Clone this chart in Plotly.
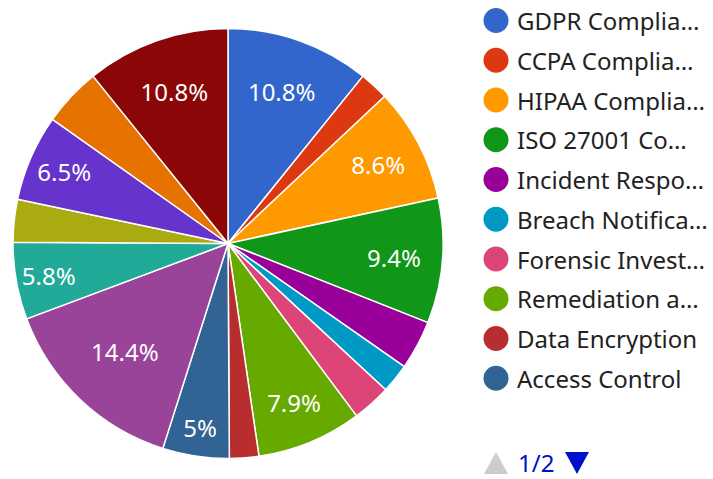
import plotly.graph_objects as go

W, H = 713, 479

categories = [
    "GDPR Compliance", "CCPA Compliance", "HIPAA Compliance", "ISO 27001 Compliance",
    "Incident Response", "Breach Notification", "Forensic Investigation",
    "Remediation and Recovery", "Data Encryption", "Access Control",
    "Network Security", "Vulnerability Management", "Security Training",
    "Third-Party Risk", "Audit and Reporting", "Threat Intelligence",
]
shares = [10.8, 2.2, 8.6, 9.4, 3.7, 2.2, 2.9, 7.9, 2.2, 5.0,
          14.4, 5.8, 3.2, 6.5, 4.4, 10.8]
colors = ["#3366CC", "#DC3912", "#FF9900", "#109618", "#990099", "#0099C6",
          "#DD4477", "#66AA00", "#B82E2E", "#316395", "#994499", "#22AA99",
          "#AAAA11", "#6633CC", "#E67300", "#8B0707"]
legend_labels = ["GDPR Complia…", "CCPA Complia…", "HIPAA Complia…", "ISO 27001 Co…",
                 "Incident Respo…", "Breach Notifica…", "Forensic Invest…",
                 "Remediation a…", "Data Encryption", "Access Control"]
page_label = "1/2"

total = sum(shares)
texts = []
for v in shares:
    p = round(v / total * 100, 1)
    s = f"{p:.1f}".rstrip("0").rstrip(".") + "%"
    texts.append(s if p >= 5 else "")

FONT = "Noto Sans, Open Sans, sans-serif"

fig = go.Figure(go.Pie(
    labels=categories, values=shares, text=texts, textinfo="text",
    textposition="inside", insidetextorientation="horizontal",
    sort=False, direction="clockwise", rotation=0,
    marker=dict(colors=colors, line=dict(color="white", width=1.5)),
    textfont=dict(family=FONT, size=24, color="white"),
    hovertemplate="%{label}: %{percent}<extra></extra>",
    showlegend=False,
    domain=dict(x=[13 / W, 443 / W], y=[1 - 458.5 / H, 1 - 28.5 / H]),
))

def px(x):
    return x / W

def py(y):
    return 1 - y / H

shapes = []
annotations = []
y0, step, r = 20.5, 39.75, 12.5
cx = 496
for i, (lab, col) in enumerate(zip(legend_labels, colors)):
    cy = y0 + i * step
    shapes.append(dict(type="circle", xref="paper", yref="paper",
                       x0=px(cx - r), x1=px(cx + r), y0=py(cy + r), y1=py(cy - r),
                       fillcolor=col, line=dict(width=0)))
    annotations.append(dict(xref="paper", yref="paper", x=px(515), y=py(cy),
                            xanchor="left", yanchor="middle", showarrow=False,
                            text=lab, font=dict(family=FONT, size=24, color="#222222")))

# pager
pyc = 463
shapes.append(dict(type="path", xref="paper", yref="paper",
                   path=f"M {px(484)},{py(pyc + 11)} L {px(508)},{py(pyc + 11)} L {px(496)},{py(pyc - 11)} Z",
                   fillcolor="#cccccc", line=dict(width=0)))
shapes.append(dict(type="path", xref="paper", yref="paper",
                   path=f"M {px(565)},{py(pyc - 11)} L {px(589)},{py(pyc - 11)} L {px(577)},{py(pyc + 11)} Z",
                   fillcolor="#0011cc", line=dict(width=0)))
annotations.append(dict(xref="paper", yref="paper", x=px(517), y=py(pyc - 1),
                        xanchor="left", yanchor="middle", showarrow=False, borderpad=0,
                        text=page_label, font=dict(family=FONT, size=24, color="#0011cc")))

fig.update_layout(
    width=W, height=H, margin=dict(l=0, r=0, t=0, b=0),
    paper_bgcolor="white", plot_bgcolor="white",
    shapes=shapes, annotations=annotations,
    font=dict(family=FONT),
)

fig.write_html("out.html", config={"displayModeBar": False},
               post_script="document.body.style.margin='0px';document.body.style.overflow='hidden';")
